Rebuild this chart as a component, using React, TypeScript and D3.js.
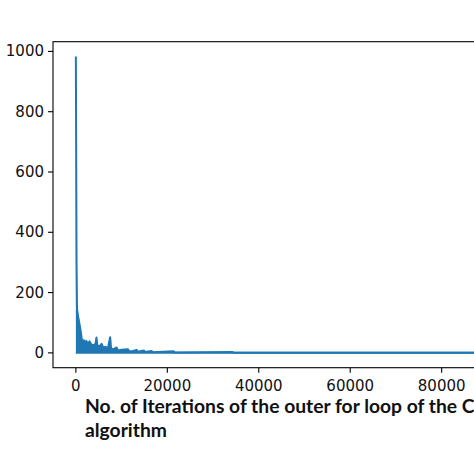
import React from "react";
import * as d3 from "d3";

const iterations = [0, 150, 250, 500, 800, 1100, 1300, 1500, 1750, 2000, 2300, 2600, 3000, 3400, 3800, 4300, 4500, 4700, 5200, 5600, 6000, 6500, 7000, 7500, 7700, 8200, 8900, 9200, 10000, 11400, 11600, 12500, 13300, 13500, 14900, 15100, 16600, 16800, 21400, 21600, 34300, 34500, 100000];
const costValues = [983, 300, 145, 120, 95, 68, 45, 30, 42, 35, 40, 30, 38, 28, 25, 30, 51, 25, 22, 30, 18, 20, 15, 52, 15, 12, 18, 8, 10, 12, 5, 6, 10, 4, 8, 3, 6, 2, 5, 1, 3, 0.8, 0.8];
const xTicks = [0, 20000, 40000, 60000, 80000];
const yTicks = [0, 200, 400, 600, 800, 1000];
const xLabelLines = ["No. of Iterations of the outer for loop of the C", "algorithm"];

const W = 474;
const H = 474;
const left = 53;
const right = 556;
const top = 41.7;
const bottom = 367.7;
const blue = "#1f77b4";
const tickFont = "'DejaVu Sans', sans-serif";

export default function App() {
  const x = d3.scaleLinear().domain([-5000, 105000]).range([left, right]);
  const y = d3.scaleLinear().domain([-49.2, 1032.2]).range([bottom, top]);
  const pts = iterations.map((it, i) => [it, costValues[i]] as [number, number]);
  const area = d3
    .area<[number, number]>()
    .x((d) => x(d[0]))
    .y0(() => y(0))
    .y1((d) => y(d[1]));
  const line = d3
    .line<[number, number]>()
    .x((d) => x(d[0]))
    .y((d) => y(d[1]));

  return (
    <svg
      width={W}
      height={H}
      style={{ position: "absolute", left: 0, top: 0, background: "#fff" }}
    >
      <rect x={0} y={0} width={W} height={H} fill="#fff" />
      <defs>
        <clipPath id="plotclip">
          <rect x={left} y={top} width={right - left} height={bottom - top} />
        </clipPath>
      </defs>
      <g clipPath="url(#plotclip)">
        <path d={area(pts) ?? ""} fill={blue} stroke="none" />
        <path d={line(pts) ?? ""} fill="none" stroke={blue} strokeWidth={2} strokeLinejoin="round" />
        <line x1={x(0)} x2={x(100000)} y1={y(0.8)} y2={y(0.8)} stroke={blue} strokeWidth={2} />
      </g>
      <rect x={left} y={top} width={right - left} height={bottom - top} fill="none" stroke="#000" strokeWidth={1.1} />
      {yTicks.map((t) => (
        <g key={"y" + t}>
          <line x1={left - 5} x2={left} y1={y(t)} y2={y(t)} stroke="#000" strokeWidth={1.1} />
          <text
            x={left - 9}
            y={y(t)}
            textAnchor="end"
            dominantBaseline="central"
            style={{ fontFamily: tickFont }}
            fontSize={15}
            fill="#111"
          >
            {t}
          </text>
        </g>
      ))}
      {xTicks.map((t) => (
        <g key={"x" + t}>
          <line x1={x(t)} x2={x(t)} y1={bottom} y2={bottom + 5} stroke="#000" strokeWidth={1.1} />
          <text
            x={x(t)}
            y={bottom + 23}
            textAnchor="middle"
            style={{ fontFamily: tickFont }}
            fontSize={15}
            fill="#111"
          >
            {t}
          </text>
        </g>
      ))}
      {xLabelLines.map((s, i) => (
        <text
          key={s}
          x={85}
          y={413 + i * 24}
          style={{ fontFamily: "Lato, sans-serif" }}
          fontWeight="bold"
          fontSize={19.3}
          fill="#111"
        >
          {s}
        </text>
      ))}
    </svg>
  );
}
